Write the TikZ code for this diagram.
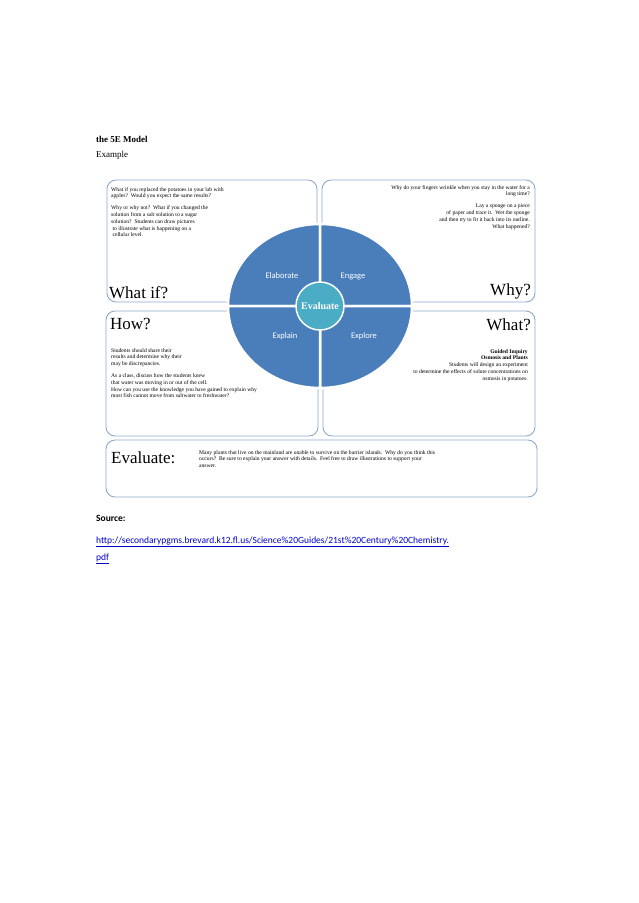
\documentclass[tikz,border=0pt]{standalone}
\usepackage{fontspec}
\setmainfont{Liberation Serif}
\newfontfamily\calfont{Carlito}
\definecolor{qblue}{RGB}{74,126,187}
\definecolor{bblue}{RGB}{140,170,205}
\definecolor{eteal}{RGB}{75,172,198}
\begin{document}
\begin{tikzpicture}[x=1pt,y=-1pt,
  box/.style={draw=bblue,line width=0.9pt,rounded corners=9pt},
  sm/.style={font=\fontsize{5.6}{6.8}\selectfont,inner sep=0pt},
  big/.style={font=\fontsize{17}{17}\selectfont,inner sep=0pt},
  quad/.style={fill=qblue,draw=white,line width=2.5pt},
  ql/.style={text=white,font=\calfont\fontsize{8.5}{9}\selectfont}]
\useasboundingbox (0,0) rectangle (638,903);
\node[anchor=west,font=\bfseries\fontsize{9}{10}\selectfont,inner sep=0] (t1) at (96,139) {the 5E Model};
\node[anchor=west,font=\fontsize{9}{10}\selectfont,inner sep=0] (t2) at (96,155) {Example};
\draw[box] (107,180) rectangle (317,302);
\draw[box] (322,180) rectangle (535,302);
\draw[box] (106,311) rectangle (318,436);
\draw[box] (323,311) rectangle (535,436);
\draw[box] (106,440) rectangle (537,497);
% quadrants
\filldraw[quad] (320,306) -- (228,306) arc[start angle=180,end angle=270,x radius=92,y radius=82] -- cycle;
\filldraw[quad] (320,306) -- (320,224) arc[start angle=270,end angle=360,x radius=92,y radius=82] -- cycle;
\filldraw[quad] (320,306) -- (412,306) arc[start angle=0,end angle=90,x radius=92,y radius=82] -- cycle;
\filldraw[quad] (320,306) -- (320,388) arc[start angle=90,end angle=180,x radius=92,y radius=82] -- cycle;
\node[ql] (q1) at (282,276) {Elaborate};
\node[ql] (q2) at (353,276) {Engage};
\node[ql] (q3) at (285,336) {Explain};
\node[ql] (q4) at (364,336) {Explore};
\node[circle,fill=eteal,draw=white,line width=1.5pt,minimum size=48pt,inner sep=0,text=white,font=\bfseries\fontsize{10}{10}\selectfont] (ev) at (320,306) {Evaluate};
% texts
\node[sm,anchor=north west,align=left] (a) at (111,187) {What if you replaced the potatoes in your lab with\\apples?\ \ Would you expect the same results?\\[5pt]Why or why not?\ \ What if you changed the\\solution from a salt solution to a sugar\\solution?\ \ Students can draw pictures\\\ to illustrate what is happening on a\\\ cellular level.};
\node[big,anchor=south west] (wi) at (109,299) {What if?};
\node[sm,anchor=north east,align=right] (b) at (530,185) {Why do your fingers wrinkle when you stay in the water for a\\long time?\\[5pt]Lay a sponge on a piece\\of paper and trace it.\ \ Wet the sponge\\and then try to fit it back into its outline.\\What happened?};
\node[big,anchor=south east] (wy) at (531,299) {Why?};
\node[big,anchor=north west] (hw) at (110,318) {How?};
\node[sm,anchor=north west,align=left] (c) at (111,348) {Students should share their\\results and determine why their\\may be discrepancies.\\[5pt]As a class, discuss how the students knew\\that water was moving in or out of the cell.\\How can you use the knowledge you have gained to explain why\\most fish cannot move from saltwater to freshwater?};
\node[big,anchor=north east] (wt) at (531,318) {What?};
\node[sm,anchor=north east,align=right] (d) at (528,349) {\textbf{Guided Inquiry}\\\textbf{Osmosis and Plants}\\Students will design an experiment\\to determine the effects of solute concentrations on\\osmosis in potatoes.};
\node[big,anchor=north west] (el) at (111,451) {Evaluate:};
\node[sm,anchor=north west,align=left] (e) at (199,450) {Many plants that live on the mainland are unable to survive on the barrier islands.\ \ Why do you think this\\occurs?\ \ Be sure to explain your answer with details.\ \ Feel free to draw illustrations to support your\\answer.};
\node[anchor=west,inner sep=0,font=\calfont\bfseries\fontsize{9.5}{10}\selectfont] (s) at (96,518) {Source:};
\node[anchor=west,inner sep=0,align=left,text=blue!80!black,font=\calfont\fontsize{9.5}{17}\selectfont] (u) at (96,550) {\underline{http://secondarypgms.brevard.k12.fl.us/Science\%20Guides/21st\%20Century\%20Chemistry.}\\\underline{pdf}};
\end{tikzpicture}
\end{document}
